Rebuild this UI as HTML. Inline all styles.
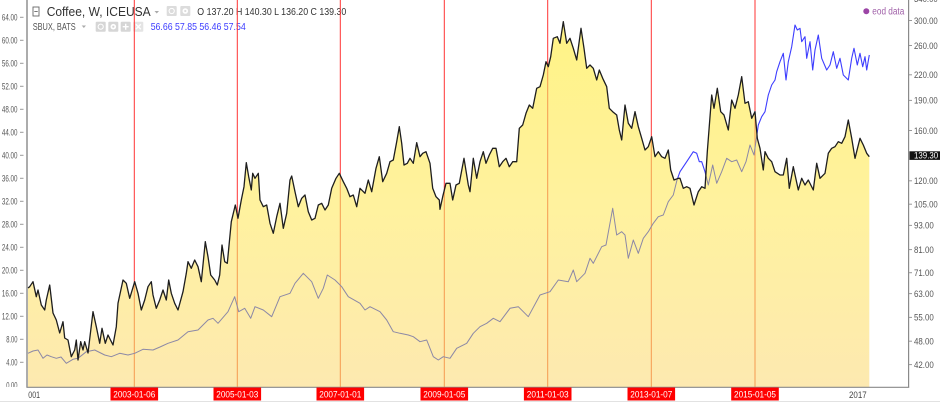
<!DOCTYPE html>
<html><head><meta charset="utf-8"><style>
html,body{margin:0;padding:0;background:#fff;}
svg{display:block;font-family:"Liberation Sans",Arial,sans-serif;}
</style></head><body>
<svg width="940" height="402" viewBox="0 0 940 402" xmlns="http://www.w3.org/2000/svg">
<defs>
<linearGradient id="g" gradientUnits="userSpaceOnUse" x1="0" y1="20" x2="0" y2="387">
<stop offset="0" stop-color="#fff385"/>
<stop offset="0.5" stop-color="#fff29e"/>
<stop offset="1" stop-color="#fde9b0"/>
</linearGradient>
<clipPath id="ca"><path id="areaP" d="M28,387 L28,288 L29.7,286.7 L33,281.7 L36.3,296.7 L38,290 L41.3,305 L44.7,310 L46.3,300 L49.7,285 L53,313 L56.3,320 L59.7,333 L63,321.7 L64.7,338 L68,340 L71.3,356.7 L74.7,350 L76.3,340 L78,360 L80.7,341.7 L83,350 L84.7,341.7 L88,353 L93,311.7 L96.3,326.7 L99.7,343.3 L102,328.3 L105.3,343.3 L108,335 L113,345 L116.3,326.7 L118,303.3 L123,280 L126.3,283.3 L129.7,298.3 L134.7,281.7 L138,293.3 L141.3,310 L144.7,300 L148,286.7 L151.3,281.7 L153,295 L156.3,308.3 L159.7,300 L163,290 L166.3,300 L168.7,280 L171.3,293.3 L174.7,303.3 L178,310 L183,291.7 L186.3,273.3 L188,261.7 L191.3,268.3 L194.7,260 L198,266.7 L201.3,281.7 L205.3,241.7 L208,256.7 L210.7,275 L214.7,280 L217.3,285 L219.7,275 L222,245 L224.7,261.7 L227.3,263.3 L231.3,221.7 L235.3,205 L238,218.3 L241.3,200 L244,186.7 L246.3,162.7 L248.7,176.7 L251.3,190 L252.7,173.3 L255,178.3 L258.3,173.3 L260,200 L263.3,206.7 L266.7,205 L270,223.3 L273.3,233.3 L276.7,216.7 L280,203.3 L283.3,228.3 L286.7,213.3 L290,180 L291.7,176 L295,191.7 L298.3,206.7 L301.7,198.3 L305,195 L308.3,211.7 L311.7,220 L315,218.3 L318.3,205 L321.7,203.3 L325,210 L328.3,205 L331.7,188.3 L336,178.3 L339.3,173.3 L343.3,181.7 L346.7,188.3 L350,196.7 L353.3,195 L356.7,206.7 L360,188.3 L365,193.3 L368.3,180 L371.7,191.7 L376,168.3 L379.3,156.7 L382.7,181.7 L386.7,173.3 L390,161.7 L393.3,160 L396.7,141.7 L399.3,126.7 L401.7,143.3 L404,165 L407.3,163.3 L410,158.3 L413.3,163.3 L416.7,142.7 L420,156.7 L422.7,153.3 L426,151.7 L430,163.3 L432.7,188.3 L436,196.7 L439.3,200 L440,209.3 L442.7,196.7 L446,183.3 L450,183.3 L452.7,200 L456,185 L459.3,183.3 L464,158.3 L468.3,185 L470,191.7 L473.3,158.3 L476.7,178.3 L480,161.7 L483.3,151.7 L486,163.3 L489.3,155 L492.7,148.3 L496,148.3 L499.3,166.7 L502.7,161.7 L506,158.3 L509.3,166.7 L512.7,161.7 L516.7,161.7 L519.3,128.3 L522.7,125 L526,113.3 L529.3,105 L532.7,108.3 L536.7,88.3 L540,86.7 L543.3,75 L546,61.7 L548.3,66.7 L550.7,56.7 L553.3,38.3 L557.3,36.7 L560,43.3 L563.3,21.7 L566.7,43.3 L570,38.3 L573.3,48.3 L576.7,60 L581,28.3 L584,48.3 L586.7,68.3 L590,65 L593.3,68.3 L596.7,80 L599.3,70 L602.7,78.3 L606.7,86.7 L609.3,108.3 L612.7,111.7 L616.7,115 L619.3,130 L621.7,140 L625,105 L628.3,123.3 L631.7,128.3 L635,111.7 L638.3,126.7 L641.7,138.3 L645,150 L648.3,146.7 L651.7,136.7 L655,156.7 L658.3,151.7 L661.7,156.7 L665,158.3 L668.3,150 L670.7,170 L674,180 L678.3,178.3 L680,178.3 L683.3,188.3 L686.7,186.7 L690,188.3 L694,205 L698.3,191.7 L701.7,186.7 L705,188.3 L707.3,151.7 L711.7,95 L714,108.3 L717.3,88.3 L720.7,111.7 L724,115 L728.3,130 L731.7,100 L735,108.3 L738.3,95 L741.7,76.7 L745,103.3 L748.3,101.7 L751.7,118.3 L755,111.7 L757.3,138.3 L760,148.3 L763.3,170 L765,151.7 L768.3,158.3 L771.7,161.7 L775,171.7 L780,175 L783.3,175 L786.7,158.3 L789.3,188.3 L793.3,166.7 L798.3,190 L801.7,178.3 L805,185 L808.3,180 L813.3,190 L816.7,163.3 L820,178.3 L825,173.3 L828.3,153.3 L831.7,148.3 L835,146.7 L838.3,141.7 L841.7,143.3 L845,136.7 L848.3,120 L851.7,138.3 L855,158.3 L860,138.3 L863.3,145 L866.7,153.3 L869.3,156.7 L869.3,387 Z"/></clipPath>
<mask id="outside" maskUnits="userSpaceOnUse" x="0" y="0" width="940" height="402">
<rect x="0" y="0" width="940" height="402" fill="#fff"/>
<use href="#areaP" fill="#000"/>
</mask>
</defs>

<!-- header -->
<rect x="33" y="7" width="6" height="9" fill="none" stroke="#666" stroke-width="0.9"/>
<line x1="34.3" y1="11.5" x2="37.7" y2="11.5" stroke="#666" stroke-width="0.9"/>
<text x="46.7" y="15.8" font-size="12.5" fill="#333" textLength="104" lengthAdjust="spacingAndGlyphs">Coffee, W, ICEUSA</text>
<path d="M154.5,11 L159,11 L156.75,13.5 Z" fill="#aaa"/>
<rect x="166.7" y="6" width="10" height="10" rx="1" fill="#dcdcdc"/>
<circle cx="171.7" cy="11" r="2.6" fill="none" stroke="#fff" stroke-width="1"/>
<rect x="180.3" y="6" width="10" height="10" rx="1" fill="#dcdcdc"/>
<circle cx="185.3" cy="11" r="2.8" fill="#fff"/><circle cx="185.3" cy="11" r="1.1" fill="#dcdcdc"/>
<text x="197.3" y="15" font-size="10.5" fill="#333" textLength="149" lengthAdjust="spacingAndGlyphs">O 137.20 H 140.30 L 136.20 C 139.30</text>

<text x="32.7" y="30" font-size="10" fill="#555" textLength="43" lengthAdjust="spacingAndGlyphs">SBUX, BATS</text>
<path d="M81.7,25.5 L86,25.5 L83.85,28 Z" fill="#aaa"/>
<rect x="95.7" y="21.7" width="10" height="10" rx="1" fill="#d6d6d6"/>
<circle cx="100.7" cy="26.7" r="2.6" fill="none" stroke="#fff" stroke-width="1"/>
<rect x="108.3" y="21.7" width="10" height="10" rx="1" fill="#d6d6d6"/>
<circle cx="113.3" cy="26.7" r="2.8" fill="#fff"/><circle cx="113.3" cy="26.7" r="1.1" fill="#d6d6d6"/>
<rect x="120.7" y="21.7" width="10" height="10" rx="1" fill="#d6d6d6"/>
<path d="M125.7,23.7 V29.7 M122.7,26.7 H128.7" stroke="#fff" stroke-width="1.4"/>
<rect x="133.3" y="21.7" width="10" height="10" rx="1" fill="#e4e4e4"/>
<path d="M135.8,24.2 L140.8,29.2 M140.8,24.2 L135.8,29.2" stroke="#fff" stroke-width="1.4"/>
<text x="150.7" y="30" font-size="10.5" fill="#3b3bff" textLength="95" lengthAdjust="spacingAndGlyphs">56.66 57.85 56.46 57.54</text>

<circle cx="866.3" cy="11.3" r="3" fill="#9c45a6"/>
<text x="872.3" y="14.5" font-size="10" fill="#a060a8" textLength="32" lengthAdjust="spacingAndGlyphs">eod data</text>

<!-- red vertical lines (outside area) -->
<g stroke="#ff3333" stroke-width="1">
<line x1="134.3" y1="0" x2="134.3" y2="387"/>
<line x1="237.3" y1="0" x2="237.3" y2="387"/>
<line x1="340.3" y1="0" x2="340.3" y2="387"/>
<line x1="444.3" y1="0" x2="444.3" y2="387"/>
<line x1="547.7" y1="0" x2="547.7" y2="387"/>
<line x1="651.3" y1="0" x2="651.3" y2="387"/>
<line x1="755" y1="0" x2="755" y2="387"/>
</g>

<!-- SBUX blue line outside area -->
<path mask="url(#outside)" fill="none" stroke="#3d3dff" stroke-width="1.1" stroke-linejoin="round" d="M28,353.3 L33,351 L38,350 L43,358.3 L47,355 L51.3,356.7 L56.3,358.3 L61,357 L66.3,363.3 L73,359.3 L78,358.3 L86.3,351.7 L94.7,350 L104.7,355 L111.3,356.7 L119.7,353.3 L128,355 L134.7,353.3 L143,349.3 L153,350 L160,347 L168,343.3 L178,340 L188,331.7 L198,330 L208,320 L213,318.3 L218,323.3 L228,311.7 L234.7,296.7 L238.7,311.7 L244.7,308.3 L250.7,318.3 L255,306.7 L263.3,310 L271.7,316.7 L280,296.7 L290,293.3 L295,283.3 L303.3,273.3 L311.7,281.7 L318.3,298.3 L323.3,288.3 L327.3,275 L335,280 L341.7,286.7 L348.3,296.7 L360,303.3 L365,310 L370,306.7 L380,311.7 L386.7,320 L393.3,331.7 L400,333.3 L408.3,335 L413.3,336.7 L420,341.7 L426.7,340 L433.3,356.7 L438.3,360 L443.3,356.7 L450,358.3 L456.7,348.3 L466.7,343.3 L473.3,333.3 L480,326.7 L486.7,323.3 L493.3,318.3 L500,321.7 L510,308.3 L518.3,306.7 L528.3,316.7 L540,295 L550,291.7 L558.3,280 L568.3,281.7 L573.3,270 L576.7,281.7 L585,273.3 L590,258.3 L593.3,263.3 L601.7,246.7 L606,245 L612.7,208.3 L616.7,235 L621.7,231.7 L625,235 L628.3,258.3 L633.3,240 L638.3,253.3 L643.3,238.3 L648.3,231.7 L653.3,223.3 L658.3,216.7 L663.3,215 L668.3,201.7 L673.3,195 L677,180 L680,171.7 L686.7,161.7 L693.3,151.7 L696.7,153.3 L699.3,161.7 L701.7,161.7 L705,171.7 L708.3,185 L712.7,165 L716.7,183.3 L721.7,171.7 L726.7,158.3 L731.7,161.7 L736.7,160 L741.7,171.7 L746,161.7 L750,145 L754,155 L758.3,125 L761.7,116.7 L765,111.7 L768.3,95 L771.7,85 L775,80 L776.7,71.7 L780,61.7 L783.3,53.3 L786,80 L788.3,61.7 L791.7,46.7 L795,25 L797.3,30 L800,28.3 L801.7,41.7 L805,36.7 L806.7,58.3 L810,41.7 L812.7,70 L815,50 L818.3,35 L821.7,58.3 L826.7,70 L830,65 L833.3,51.7 L836.7,68.3 L840,58.3 L843.3,75 L848.3,80 L851.7,58.3 L854,48.3 L857.3,65 L860,53.3 L862.7,66.7 L865,56.7 L866.7,70 L869.3,55"/>

<!-- area fill -->
<use href="#areaP" fill="url(#g)"/>

<!-- things seen through the area -->
<g clip-path="url(#ca)">
<g stroke="#f59a50" stroke-width="1">
<line x1="134.3" y1="0" x2="134.3" y2="387"/>
<line x1="237.3" y1="0" x2="237.3" y2="387"/>
<line x1="340.3" y1="0" x2="340.3" y2="387"/>
<line x1="444.3" y1="0" x2="444.3" y2="387"/>
<line x1="547.7" y1="0" x2="547.7" y2="387"/>
<line x1="651.3" y1="0" x2="651.3" y2="387"/>
<line x1="755" y1="0" x2="755" y2="387"/>
</g>
<path fill="none" stroke="#8c88a6" stroke-width="1" stroke-linejoin="round" d="M28,353.3 L33,351 L38,350 L43,358.3 L47,355 L51.3,356.7 L56.3,358.3 L61,357 L66.3,363.3 L73,359.3 L78,358.3 L86.3,351.7 L94.7,350 L104.7,355 L111.3,356.7 L119.7,353.3 L128,355 L134.7,353.3 L143,349.3 L153,350 L160,347 L168,343.3 L178,340 L188,331.7 L198,330 L208,320 L213,318.3 L218,323.3 L228,311.7 L234.7,296.7 L238.7,311.7 L244.7,308.3 L250.7,318.3 L255,306.7 L263.3,310 L271.7,316.7 L280,296.7 L290,293.3 L295,283.3 L303.3,273.3 L311.7,281.7 L318.3,298.3 L323.3,288.3 L327.3,275 L335,280 L341.7,286.7 L348.3,296.7 L360,303.3 L365,310 L370,306.7 L380,311.7 L386.7,320 L393.3,331.7 L400,333.3 L408.3,335 L413.3,336.7 L420,341.7 L426.7,340 L433.3,356.7 L438.3,360 L443.3,356.7 L450,358.3 L456.7,348.3 L466.7,343.3 L473.3,333.3 L480,326.7 L486.7,323.3 L493.3,318.3 L500,321.7 L510,308.3 L518.3,306.7 L528.3,316.7 L540,295 L550,291.7 L558.3,280 L568.3,281.7 L573.3,270 L576.7,281.7 L585,273.3 L590,258.3 L593.3,263.3 L601.7,246.7 L606,245 L612.7,208.3 L616.7,235 L621.7,231.7 L625,235 L628.3,258.3 L633.3,240 L638.3,253.3 L643.3,238.3 L648.3,231.7 L653.3,223.3 L658.3,216.7 L663.3,215 L668.3,201.7 L673.3,195 L677,180 L680,171.7 L686.7,161.7 L693.3,151.7 L696.7,153.3 L699.3,161.7 L701.7,161.7 L705,171.7 L708.3,185 L712.7,165 L716.7,183.3 L721.7,171.7 L726.7,158.3 L731.7,161.7 L736.7,160 L741.7,171.7 L746,161.7 L750,145 L754,155 L758.3,125 L761.7,116.7 L765,111.7 L768.3,95 L771.7,85"/>
</g>

<!-- coffee line -->
<path fill="none" stroke="#1e1e1e" stroke-width="1.3" stroke-linejoin="round" d="M28,288 L29.7,286.7 L33,281.7 L36.3,296.7 L38,290 L41.3,305 L44.7,310 L46.3,300 L49.7,285 L53,313 L56.3,320 L59.7,333 L63,321.7 L64.7,338 L68,340 L71.3,356.7 L74.7,350 L76.3,340 L78,360 L80.7,341.7 L83,350 L84.7,341.7 L88,353 L93,311.7 L96.3,326.7 L99.7,343.3 L102,328.3 L105.3,343.3 L108,335 L113,345 L116.3,326.7 L118,303.3 L123,280 L126.3,283.3 L129.7,298.3 L134.7,281.7 L138,293.3 L141.3,310 L144.7,300 L148,286.7 L151.3,281.7 L153,295 L156.3,308.3 L159.7,300 L163,290 L166.3,300 L168.7,280 L171.3,293.3 L174.7,303.3 L178,310 L183,291.7 L186.3,273.3 L188,261.7 L191.3,268.3 L194.7,260 L198,266.7 L201.3,281.7 L205.3,241.7 L208,256.7 L210.7,275 L214.7,280 L217.3,285 L219.7,275 L222,245 L224.7,261.7 L227.3,263.3 L231.3,221.7 L235.3,205 L238,218.3 L241.3,200 L244,186.7 L246.3,162.7 L248.7,176.7 L251.3,190 L252.7,173.3 L255,178.3 L258.3,173.3 L260,200 L263.3,206.7 L266.7,205 L270,223.3 L273.3,233.3 L276.7,216.7 L280,203.3 L283.3,228.3 L286.7,213.3 L290,180 L291.7,176 L295,191.7 L298.3,206.7 L301.7,198.3 L305,195 L308.3,211.7 L311.7,220 L315,218.3 L318.3,205 L321.7,203.3 L325,210 L328.3,205 L331.7,188.3 L336,178.3 L339.3,173.3 L343.3,181.7 L346.7,188.3 L350,196.7 L353.3,195 L356.7,206.7 L360,188.3 L365,193.3 L368.3,180 L371.7,191.7 L376,168.3 L379.3,156.7 L382.7,181.7 L386.7,173.3 L390,161.7 L393.3,160 L396.7,141.7 L399.3,126.7 L401.7,143.3 L404,165 L407.3,163.3 L410,158.3 L413.3,163.3 L416.7,142.7 L420,156.7 L422.7,153.3 L426,151.7 L430,163.3 L432.7,188.3 L436,196.7 L439.3,200 L440,209.3 L442.7,196.7 L446,183.3 L450,183.3 L452.7,200 L456,185 L459.3,183.3 L464,158.3 L468.3,185 L470,191.7 L473.3,158.3 L476.7,178.3 L480,161.7 L483.3,151.7 L486,163.3 L489.3,155 L492.7,148.3 L496,148.3 L499.3,166.7 L502.7,161.7 L506,158.3 L509.3,166.7 L512.7,161.7 L516.7,161.7 L519.3,128.3 L522.7,125 L526,113.3 L529.3,105 L532.7,108.3 L536.7,88.3 L540,86.7 L543.3,75 L546,61.7 L548.3,66.7 L550.7,56.7 L553.3,38.3 L557.3,36.7 L560,43.3 L563.3,21.7 L566.7,43.3 L570,38.3 L573.3,48.3 L576.7,60 L581,28.3 L584,48.3 L586.7,68.3 L590,65 L593.3,68.3 L596.7,80 L599.3,70 L602.7,78.3 L606.7,86.7 L609.3,108.3 L612.7,111.7 L616.7,115 L619.3,130 L621.7,140 L625,105 L628.3,123.3 L631.7,128.3 L635,111.7 L638.3,126.7 L641.7,138.3 L645,150 L648.3,146.7 L651.7,136.7 L655,156.7 L658.3,151.7 L661.7,156.7 L665,158.3 L668.3,150 L670.7,170 L674,180 L678.3,178.3 L680,178.3 L683.3,188.3 L686.7,186.7 L690,188.3 L694,205 L698.3,191.7 L701.7,186.7 L705,188.3 L707.3,151.7 L711.7,95 L714,108.3 L717.3,88.3 L720.7,111.7 L724,115 L728.3,130 L731.7,100 L735,108.3 L738.3,95 L741.7,76.7 L745,103.3 L748.3,101.7 L751.7,118.3 L755,111.7 L757.3,138.3 L760,148.3 L763.3,170 L765,151.7 L768.3,158.3 L771.7,161.7 L775,171.7 L780,175 L783.3,175 L786.7,158.3 L789.3,188.3 L793.3,166.7 L798.3,190 L801.7,178.3 L805,185 L808.3,180 L813.3,190 L816.7,163.3 L820,178.3 L825,173.3 L828.3,153.3 L831.7,148.3 L835,146.7 L838.3,141.7 L841.7,143.3 L845,136.7 L848.3,120 L851.7,138.3 L855,158.3 L860,138.3 L863.3,145 L866.7,153.3 L869.3,156.7"/>

<!-- axes -->
<rect x="0" y="388" width="940" height="14" fill="#fff"/>
<line x1="27" y1="0" x2="27" y2="387.3" stroke="#808080" stroke-width="1.3"/>
<line x1="908.6" y1="0" x2="908.6" y2="387.3" stroke="#8a8a8a" stroke-width="1.2"/>
<line x1="26.4" y1="387.3" x2="909.2" y2="387.3" stroke="#8a8a8a" stroke-width="1.2"/>
<line x1="0" y1="401.5" x2="940" y2="401.5" stroke="#e2e2e2" stroke-width="1"/>

<!-- left axis ticks/labels -->
<g stroke="#999" stroke-width="1">
<line x1="20" y1="17.3" x2="23.5" y2="17.3"/><line x1="20" y1="40.3" x2="23.5" y2="40.3"/><line x1="20" y1="63.3" x2="23.5" y2="63.3"/><line x1="20" y1="86.3" x2="23.5" y2="86.3"/><line x1="20" y1="109.3" x2="23.5" y2="109.3"/><line x1="20" y1="132.3" x2="23.5" y2="132.3"/><line x1="20" y1="155.3" x2="23.5" y2="155.3"/><line x1="20" y1="178.3" x2="23.5" y2="178.3"/><line x1="20" y1="201.3" x2="23.5" y2="201.3"/><line x1="20" y1="224.3" x2="23.5" y2="224.3"/><line x1="20" y1="247.3" x2="23.5" y2="247.3"/><line x1="20" y1="270.3" x2="23.5" y2="270.3"/><line x1="20" y1="293.3" x2="23.5" y2="293.3"/><line x1="20" y1="316.3" x2="23.5" y2="316.3"/><line x1="20" y1="339.3" x2="23.5" y2="339.3"/><line x1="20" y1="362.3" x2="23.5" y2="362.3"/>
</g>
<g font-size="9.5" fill="#555" lengthAdjust="spacingAndGlyphs">
<text x="1.9" y="20.6" textLength="15.6" lengthAdjust="spacingAndGlyphs">64.00</text>
<text x="1.9" y="43.6" textLength="15.6" lengthAdjust="spacingAndGlyphs">60.00</text>
<text x="1.9" y="66.6" textLength="15.6" lengthAdjust="spacingAndGlyphs">56.00</text>
<text x="1.9" y="89.6" textLength="15.6" lengthAdjust="spacingAndGlyphs">52.00</text>
<text x="1.9" y="112.6" textLength="15.6" lengthAdjust="spacingAndGlyphs">48.00</text>
<text x="1.9" y="135.6" textLength="15.6" lengthAdjust="spacingAndGlyphs">44.00</text>
<text x="1.9" y="158.6" textLength="15.6" lengthAdjust="spacingAndGlyphs">40.00</text>
<text x="1.9" y="181.6" textLength="15.6" lengthAdjust="spacingAndGlyphs">36.00</text>
<text x="1.9" y="204.6" textLength="15.6" lengthAdjust="spacingAndGlyphs">32.00</text>
<text x="1.9" y="227.6" textLength="15.6" lengthAdjust="spacingAndGlyphs">28.00</text>
<text x="1.9" y="250.6" textLength="15.6" lengthAdjust="spacingAndGlyphs">24.00</text>
<text x="1.9" y="273.6" textLength="15.6" lengthAdjust="spacingAndGlyphs">20.00</text>
<text x="1.9" y="296.6" textLength="15.6" lengthAdjust="spacingAndGlyphs">16.00</text>
<text x="1.9" y="319.6" textLength="15.6" lengthAdjust="spacingAndGlyphs">12.00</text>
<text x="6.2" y="342.6" textLength="11.3" lengthAdjust="spacingAndGlyphs">8.00</text>
<text x="6.2" y="365.6" textLength="11.3" lengthAdjust="spacingAndGlyphs">4.00</text>
</g>
<svg x="0" y="380" width="26" height="7" viewBox="0 380 26 7" overflow="hidden"><text x="6.2" y="388.6" font-size="9.5" fill="#555" textLength="11.3" lengthAdjust="spacingAndGlyphs">0.00</text></svg>

<!-- right axis ticks/labels -->
<g stroke="#999" stroke-width="1">
<line x1="909" y1="20.5" x2="912" y2="20.5"/><line x1="909" y1="45.5" x2="912" y2="45.5"/><line x1="909" y1="74.8" x2="912" y2="74.8"/><line x1="909" y1="100.4" x2="912" y2="100.4"/><line x1="909" y1="130.5" x2="912" y2="130.5"/><line x1="909" y1="180.8" x2="912" y2="180.8"/><line x1="909" y1="204.2" x2="912" y2="204.2"/><line x1="909" y1="225.4" x2="912" y2="225.4"/><line x1="909" y1="249.6" x2="912" y2="249.6"/><line x1="909" y1="272.7" x2="912" y2="272.7"/><line x1="909" y1="293.6" x2="912" y2="293.6"/><line x1="909" y1="317.4" x2="912" y2="317.4"/><line x1="909" y1="341.2" x2="912" y2="341.2"/><line x1="909" y1="364.6" x2="912" y2="364.6"/>
</g>
<g font-size="9.5" fill="#555">
<text x="914" y="1.9" textLength="23.7" lengthAdjust="spacingAndGlyphs">340.00</text>
<text x="914" y="23.8" textLength="23.7" lengthAdjust="spacingAndGlyphs">300.00</text>
<text x="914" y="48.8" textLength="23.7" lengthAdjust="spacingAndGlyphs">260.00</text>
<text x="914" y="78.1" textLength="23.7" lengthAdjust="spacingAndGlyphs">220.00</text>
<text x="914" y="103.7" textLength="23.7" lengthAdjust="spacingAndGlyphs">190.00</text>
<text x="914" y="133.8" textLength="23.7" lengthAdjust="spacingAndGlyphs">160.00</text>
<text x="914" y="184.1" textLength="23.7" lengthAdjust="spacingAndGlyphs">120.00</text>
<text x="914" y="207.5" textLength="23.7" lengthAdjust="spacingAndGlyphs">105.00</text>
<text x="914" y="228.7" textLength="19.8" lengthAdjust="spacingAndGlyphs">93.00</text>
<text x="914" y="252.9" textLength="19.8" lengthAdjust="spacingAndGlyphs">81.00</text>
<text x="914" y="276" textLength="19.8" lengthAdjust="spacingAndGlyphs">71.00</text>
<text x="914" y="296.9" textLength="19.8" lengthAdjust="spacingAndGlyphs">63.00</text>
<text x="914" y="320.7" textLength="19.8" lengthAdjust="spacingAndGlyphs">55.00</text>
<text x="914" y="344.5" textLength="19.8" lengthAdjust="spacingAndGlyphs">48.00</text>
<text x="914" y="367.9" textLength="19.8" lengthAdjust="spacingAndGlyphs">42.00</text>
</g>
<rect x="909.5" y="151.3" width="30.5" height="8.6" fill="#111"/>
<text x="914" y="158.6" font-size="9.5" fill="#fff" textLength="24.2" lengthAdjust="spacingAndGlyphs">139.30</text>

<!-- bottom labels -->
<text x="28.3" y="398" font-size="9.5" fill="#444" textLength="11.7" lengthAdjust="spacingAndGlyphs">001</text>
<text x="849" y="398" font-size="9.5" fill="#444" textLength="17.7" lengthAdjust="spacingAndGlyphs">2017</text>
<g font-size="9" fill="#fff">
<rect x="110.5" y="387.5" width="47.6" height="13" fill="#ff0000"/><text x="113.3" y="397.6" textLength="42" lengthAdjust="spacingAndGlyphs">2003-01-06</text>
<rect x="213.5" y="387.5" width="47.6" height="13" fill="#ff0000"/><text x="216.3" y="397.6" textLength="42" lengthAdjust="spacingAndGlyphs">2005-01-03</text>
<rect x="316.5" y="387.5" width="47.6" height="13" fill="#ff0000"/><text x="319.3" y="397.6" textLength="42" lengthAdjust="spacingAndGlyphs">2007-01-01</text>
<rect x="420.5" y="387.5" width="47.6" height="13" fill="#ff0000"/><text x="423.3" y="397.6" textLength="42" lengthAdjust="spacingAndGlyphs">2009-01-05</text>
<rect x="523.9" y="387.5" width="47.6" height="13" fill="#ff0000"/><text x="526.7" y="397.6" textLength="42" lengthAdjust="spacingAndGlyphs">2011-01-03</text>
<rect x="627.5" y="387.5" width="47.6" height="13" fill="#ff0000"/><text x="630.3" y="397.6" textLength="42" lengthAdjust="spacingAndGlyphs">2013-01-07</text>
<rect x="731.2" y="387.5" width="47.6" height="13" fill="#ff0000"/><text x="734" y="397.6" textLength="42" lengthAdjust="spacingAndGlyphs">2015-01-05</text>
</g>
</svg>
</body></html>
